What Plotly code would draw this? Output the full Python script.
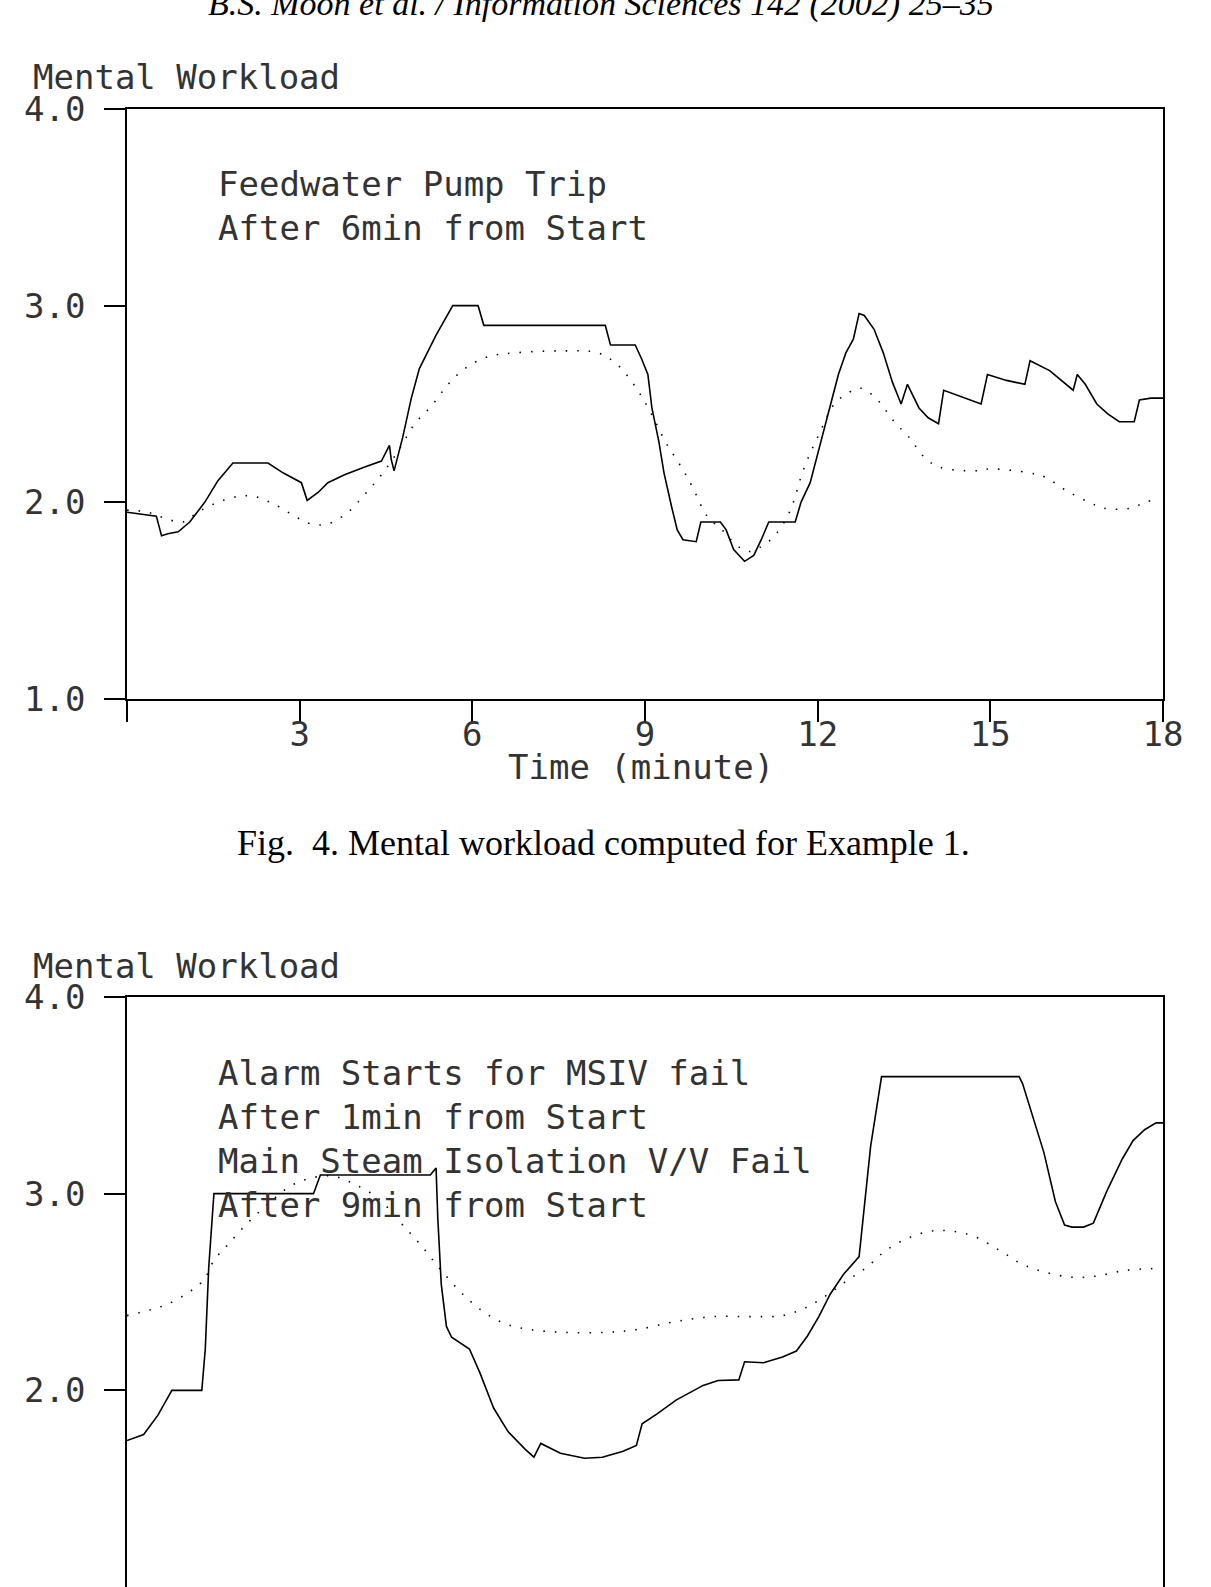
'''
Mental workload curves for the two examples (Fig. 4 and the next figure).
Solid line = computed workload, dotted line = smoothed workload.
Values were read off the scanned page by eye.
'''
import plotly.graph_objects as go

# figure 4, example 1
t1_solid = [0, 0.51, 0.60, 0.71, 0.89, 1.09, 1.35, 1.58, 1.84, 2.45,
            2.71, 3.03, 3.13, 3.32, 3.49, 3.78, 4.13, 4.42, 4.56, 4.59,
            4.64, 4.79, 4.94, 5.08, 5.37, 5.66, 6.10, 6.20,
            8.31, 8.40, 8.83, 8.94, 9.05, 9.12, 9.24, 9.33, 9.46, 9.56,
            9.66, 9.89, 9.97, 10.31, 10.41, 10.54, 10.73, 10.89, 11.02, 11.15,
            11.61, 11.71, 11.87, 12.03, 12.20, 12.36, 12.49, 12.62, 12.72, 12.81,
            12.98, 13.14, 13.30, 13.45, 13.56, 13.76, 13.92, 14.10, 14.19, 14.84,
            14.95, 15.28, 15.60, 15.69, 16.03, 16.44, 16.51, 16.65, 16.85, 17.04,
            17.24, 17.50, 17.59, 17.79, 18.0]
w1_solid = [1.95, 1.93, 1.83, 1.84, 1.85, 1.90, 2.00, 2.11, 2.20, 2.20,
            2.15, 2.10, 2.01, 2.05, 2.10, 2.14, 2.18, 2.21, 2.29, 2.22,
            2.16, 2.33, 2.53, 2.68, 2.85, 3.00, 3.00, 2.90,
            2.90, 2.80, 2.80, 2.73, 2.65, 2.48, 2.31, 2.15, 1.98, 1.86,
            1.81, 1.80, 1.90, 1.90, 1.86, 1.76, 1.70, 1.73, 1.81, 1.90,
            1.90, 2.00, 2.10, 2.28, 2.48, 2.65, 2.76, 2.83, 2.96, 2.95,
            2.88, 2.76, 2.61, 2.50, 2.60, 2.48, 2.43, 2.40, 2.57, 2.50,
            2.65, 2.62, 2.60, 2.72, 2.67, 2.57, 2.65, 2.60, 2.50, 2.45,
            2.41, 2.41, 2.52, 2.53, 2.53]

t1_dot = [0, 0.36, 0.65, 0.97, 1.23, 1.58, 1.93, 2.22, 2.62, 2.97,
          3.20, 3.49, 3.84, 4.13, 4.42, 4.71, 5.00, 5.29, 5.58, 5.87,
          6.27, 6.73, 7.60, 8.18, 8.52, 8.85, 9.11, 9.37, 9.63, 9.82,
          10.08, 10.34, 10.60, 10.80, 10.99, 11.25, 11.51, 11.77, 12.03, 12.29,
          12.55, 12.75, 13.01, 13.33, 13.59, 13.85, 14.11, 14.70, 15.02, 15.67,
          15.94, 16.32, 16.72, 16.98, 17.43, 17.69, 17.95]
w1_dot = [1.96, 1.95, 1.92, 1.90, 1.95, 2.00, 2.03, 2.03, 1.98, 1.92,
          1.89, 1.89, 1.95, 2.04, 2.14, 2.26, 2.40, 2.49, 2.60, 2.68,
          2.74, 2.76, 2.77, 2.76, 2.70, 2.58, 2.45, 2.30, 2.18, 2.08,
          1.93, 1.86, 1.78, 1.75, 1.77, 1.83, 1.95, 2.18, 2.35, 2.50,
          2.56, 2.58, 2.53, 2.41, 2.33, 2.23, 2.18, 2.16, 2.17, 2.15,
          2.13, 2.06, 2.00, 1.97, 1.97, 2.00, 2.02]

# second figure (MSIV fail), cut off at the bottom of the page
t2_solid = [0, 0.29, 0.54, 0.78, 1.30, 1.36, 1.42, 1.48, 1.51, 3.24,
            3.36, 5.27, 5.37, 5.40, 5.46, 5.55, 5.64, 5.95, 6.13, 6.37,
            6.62, 6.92, 7.07, 7.19, 7.53, 7.95, 8.26, 8.62, 8.85, 8.95,
            9.21, 9.54, 10.01, 10.27, 10.63, 10.73, 11.06, 11.39, 11.63, 11.82,
            12.02, 12.22, 12.45, 12.72, 12.92, 13.11, 15.50, 15.56, 15.76, 15.93,
            16.13, 16.29, 16.42, 16.62, 16.79, 17.02, 17.29, 17.48, 17.68, 17.88,
            18.0]
w2_solid = [1.745, 1.775, 1.875, 2.0, 2.0, 2.21, 2.625, 2.91, 3.0, 3.0,
            3.095, 3.095, 3.13, 2.875, 2.54, 2.325, 2.27, 2.21, 2.09, 1.91,
            1.79, 1.70, 1.66, 1.73, 1.68, 1.655, 1.66, 1.69, 1.72, 1.83,
            1.88, 1.95, 2.025, 2.05, 2.053, 2.145, 2.14, 2.17, 2.20, 2.275,
            2.375, 2.49, 2.59, 2.68, 3.24, 3.595, 3.595, 3.56, 3.375, 3.21,
            2.96, 2.84, 2.83, 2.83, 2.85, 3.01, 3.175, 3.27, 3.325, 3.36,
            3.36]

t2_dot = [0, 0.41, 0.72, 1.08, 1.33, 1.51, 1.75, 2.06, 2.42, 2.85,
          3.21, 3.57, 3.94, 4.37, 4.73, 5.10, 5.46, 5.83, 6.19, 6.56,
          6.98, 7.59, 8.32, 8.88, 9.54, 10.20, 10.87, 11.39, 11.79, 12.19,
          12.52, 12.85, 13.18, 13.58, 13.98, 14.31, 14.70, 15.17, 15.56, 15.96,
          16.42, 16.82, 17.35, 17.95]
w2_dot = [2.38, 2.41, 2.44, 2.50, 2.56, 2.66, 2.74, 2.84, 2.94, 3.04,
          3.08, 3.09, 3.05, 2.975, 2.86, 2.74, 2.61, 2.49, 2.40, 2.34,
          2.31, 2.295, 2.295, 2.31, 2.35, 2.375, 2.375, 2.38, 2.42, 2.49,
          2.56, 2.625, 2.71, 2.775, 2.81, 2.81, 2.785, 2.71, 2.64, 2.60,
          2.575, 2.58, 2.61, 2.62]

x_ticks = [0, 3, 6, 9, 12, 15, 18]
x_labels = ['', '3', '6', '9', '12', '15', '18']
y_ticks = [1, 2, 3, 4]
y_labels = ['1.0', '2.0', '3.0', '4.0']

header = 'B.S. Moon et al. / Information Sciences 142 (2002) 25–35'
caption = 'Fig.  4. Mental workload computed for Example 1.'
notes1 = ['Feedwater Pump Trip', 'After 6min from Start']
notes2 = ['Alarm Starts for MSIV fail', 'After 1min from Start',
          'Main Steam Isolation V/V Fail', 'After 9min from Start']

W, H = 1211, 1587
MONO = 'DejaVu Sans Mono'
SERIF = 'Liberation Serif'
INK = '#333333'


def px(x):
    return x / W


def py(y):
    # page pixel (from top) -> paper coordinate
    return 1 - y / H


def add_curves(fig, xs, ys, xs_dot, ys_dot, xaxis, yaxis):
    fig.add_trace(go.Scatter(x=xs, y=ys, mode='lines', xaxis=xaxis, yaxis=yaxis,
                             line=dict(color='black', width=1.6)))
    fig.add_trace(go.Scatter(x=xs_dot, y=ys_dot, mode='lines', xaxis=xaxis, yaxis=yaxis,
                             line=dict(color='black', width=1.6, dash='1.5px,10px', shape='spline')))


def text(fig, s, x, y, size=34, family=MONO, xanchor='left', color=INK, italic=False):
    fig.add_annotation(text=s, x=px(x), y=py(y), xref='paper', yref='paper',
                       xanchor=xanchor, yanchor='middle', showarrow=False,
                       font=dict(family=family, size=size, color=color,
                                 style='italic' if italic else 'normal'))


fig = go.Figure()
add_curves(fig, t1_solid, w1_solid, t1_dot, w1_dot, 'x', 'y')
add_curves(fig, t2_solid, w2_solid, t2_dot, w2_dot, 'x2', 'y2')

axis_common = dict(showgrid=False, zeroline=False, showline=True, linecolor='black',
                   linewidth=1.5, tickcolor='black', tickwidth=1.5, ticklen=21,
                   tickfont=dict(family=MONO, size=34, color=INK))
x_dom = [px(127), px(1163)]

fig.update_layout(
    width=W, height=H,
    # fixed page geometry: the header is meant to be cut at the top edge
    margin=dict(l=0, r=0, t=0, b=0, autoexpand=False),
    paper_bgcolor='white', plot_bgcolor='white',
    showlegend=False,
    xaxis=dict(domain=x_dom, range=[0, 18], anchor='y', mirror=True, ticks='outside',
               tickvals=x_ticks, ticktext=x_labels, ticklabelstandoff=-17, **axis_common),
    yaxis=dict(domain=[py(699), py(109)], range=[1, 4], anchor='x', mirror=True,
               ticks='outside', tickvals=y_ticks, ticktext=y_labels,
               ticklabelstandoff=12, **axis_common),
    xaxis2=dict(domain=x_dom, range=[0, 18], anchor='y2', side='top', ticks='',
                showticklabels=False, **axis_common),
    yaxis2=dict(domain=[0, py(997)], range=[1, 4], anchor='x2', mirror=True,
                ticks='outside', tickvals=y_ticks[1:], ticktext=y_labels[1:],
                ticklabelstandoff=12, **axis_common),
)

# page text
text(fig, header, 601, 4, size=34, family=SERIF, xanchor='center', color='black', italic=True)
text(fig, caption, 603, 843, size=36, family=SERIF, xanchor='center', color='black')

# axis titles
text(fig, 'Mental Workload', 31, 77)
text(fig, 'Time (minute)', 641, 767, xanchor='center')
text(fig, 'Mental Workload', 31, 966)

# notes inside the plots
for i, s in enumerate(notes1):
    text(fig, s, 216, 184 + i * 43.5)
for i, s in enumerate(notes2):
    text(fig, s, 216, 1073 + i * 44)

# no page margin, so the figure sits at the top-left corner of the window
fig.write_html('out.html', config={'displayModeBar': False},
               post_script="document.body.style.margin='0px';")
